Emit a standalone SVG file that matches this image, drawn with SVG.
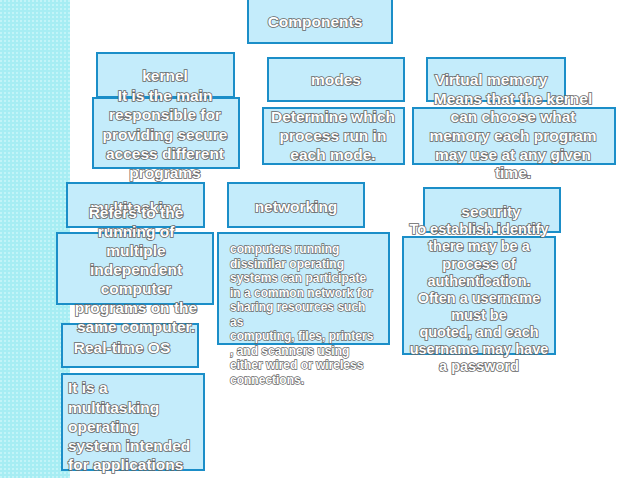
<svg xmlns="http://www.w3.org/2000/svg" width="638" height="478" viewBox="0 0 638 478">
<defs>
<pattern id="dots" width="4" height="4" patternUnits="userSpaceOnUse"><rect width="4" height="4" fill="#a6edf3"/><rect width="2" height="2" fill="#c2f4f8"/></pattern>
<style>
.b{fill:#c4ecfb;stroke:#1b8ec8;stroke-width:2}
.t{font-family:"Liberation Sans",Arial,sans-serif;font-weight:bold;font-size:15.5px;fill:#fff;stroke:#666;stroke-width:1.6;paint-order:stroke;text-anchor:middle}
.s{font-size:12px;text-anchor:start;stroke-width:1.3}
.l{text-anchor:start}
</style>
</defs>
<rect width="638" height="478" fill="#fff"/>
<rect width="70" height="478" fill="url(#dots)"/>
<g id="components"><rect class="b" x="248" y="-2" width="144" height="45"/><text class="t" x="315" y="27">Components</text></g>
<g id="kernel"><rect class="b" x="97" y="53" width="137" height="44"/><text class="t" x="165" y="81">kernel</text></g>
<g id="kernel-desc"><rect class="b" x="93" y="98" width="146" height="70"/><text class="t" x="165"><tspan x="165" y="101">It is the main</tspan><tspan x="165" y="120">responsible for</tspan><tspan x="165" y="140">providing secure</tspan><tspan x="165" y="159">access different</tspan><tspan x="165" y="178">programs</tspan></text></g>
<g id="modes"><rect class="b" x="268" y="58" width="136" height="43"/><text class="t" x="336" y="85">modes</text></g>
<g id="modes-desc"><rect class="b" x="263" y="108" width="141" height="56"/><text class="t"><tspan x="333" y="122">Determine which</tspan><tspan x="333" y="141">process run in</tspan><tspan x="333" y="160">each mode.</tspan></text></g>
<g id="vm"><rect class="b" x="427" y="58" width="138" height="43"/><text class="t" x="491" y="85">Virtual memory</text></g>
<g id="vm-desc"><rect class="b" x="413" y="108" width="202" height="56"/><text class="t"><tspan x="513" y="104">Means that the kernel</tspan><tspan x="513" y="122">can choose what</tspan><tspan x="513" y="141">memory each program</tspan><tspan x="513" y="160">may use at any given</tspan><tspan x="513" y="178">time.</tspan></text></g>
<g id="multitasking"><rect class="b" x="67" y="183" width="137" height="44"/><text class="t" x="136" y="213">multitasking</text></g>
<g id="rtos"><rect class="b" x="62" y="324" width="136" height="43"/><text class="t" x="122" y="353">Real-time OS</text></g>
<g id="multitasking-desc"><rect class="b" x="57" y="233" width="156" height="71"/><text class="t"><tspan x="136" y="218">Refers to the</tspan><tspan x="136" y="237">running of</tspan><tspan x="136" y="256">multiple</tspan><tspan x="136" y="275">independent</tspan><tspan x="136" y="294">computer</tspan><tspan x="136" y="313">programs on the</tspan><tspan x="136" y="332">same computer.</tspan></text></g>
<g id="networking"><rect class="b" x="228" y="183" width="136" height="44"/><text class="t" x="296" y="212">networking</text></g>
<g id="networking-desc"><rect class="b" x="218" y="233" width="171" height="111"/><text class="t s"><tspan x="230" y="253">computers running</tspan><tspan x="230" y="268">dissimilar operating</tspan><tspan x="230" y="282">systems can participate</tspan><tspan x="230" y="297">in a common network for</tspan><tspan x="230" y="311">sharing resources such</tspan><tspan x="230" y="326">as</tspan><tspan x="230" y="340">computing, files, printers</tspan><tspan x="230" y="355">, and scanners using</tspan><tspan x="230" y="369">either wired or wireless</tspan><tspan x="230" y="384">connections.</tspan></text></g>
<g id="security"><rect class="b" x="424" y="188" width="136" height="44"/><text class="t" x="491" y="217">security</text></g>
<g id="security-desc"><rect class="b" x="403" y="237" width="152" height="117"/><text class="t" style="font-size:14.5px"><tspan x="479" y="234">To establish identify</tspan><tspan x="479" y="251">there may be a</tspan><tspan x="479" y="269">process of</tspan><tspan x="479" y="286">authentication.</tspan><tspan x="479" y="303">Often a username</tspan><tspan x="479" y="320">must be</tspan><tspan x="479" y="337">quoted, and each</tspan><tspan x="479" y="354">username may have</tspan><tspan x="479" y="371">a password</tspan></text></g>
<g id="rtos-desc"><rect class="b" x="62" y="374" width="142" height="96"/><text class="t l"><tspan x="68" y="393">It is a</tspan><tspan x="68" y="413">multitasking</tspan><tspan x="68" y="432">operating</tspan><tspan x="68" y="451">system intended</tspan><tspan x="68" y="470">for applications</tspan></text></g>
<g id="connectors"/>
</svg>
